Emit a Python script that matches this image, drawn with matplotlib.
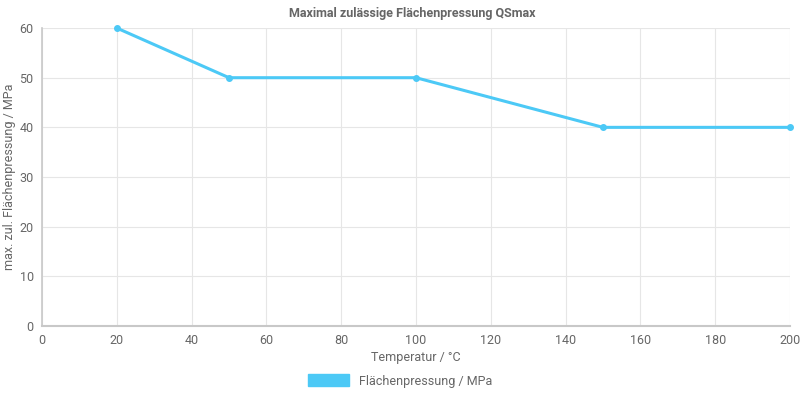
import matplotlib.pyplot as plt
from matplotlib.patches import Patch

plt.rcParams['font.family'] = ['Roboto', 'DejaVu Sans']

# daten
temperatur = [20, 50, 100, 150, 200]
pressung = [60, 50, 50, 40, 40]
x_ticks = [0, 20, 40, 60, 80, 100, 120, 140, 160, 180, 200]
y_ticks = [0, 10, 20, 30, 40, 50, 60]

farbe = '#4cc9f6'
text_farbe = '#666666'

fig = plt.figure(figsize=(8, 3.95), dpi=100)
ax = fig.add_axes([0.0525, 0.1747, 0.935, 0.7543])

ax.plot(temperatur, pressung, color=farbe, linewidth=2.2, marker='o', markersize=4,
        clip_on=False, zorder=3)

ax.set_xlim(0, 200)
ax.set_ylim(0, 60)
ax.set_xticks(x_ticks)
ax.set_yticks(y_ticks)
ax.grid(color='#e6e6e6', linewidth=0.8)
ax.set_axisbelow(True)

for s in ['top', 'right']:
    ax.spines[s].set_visible(False)
ax.spines['left'].set_color('#c8c8c8')
ax.spines['bottom'].set_color('#c8c8c8')
ax.spines['left'].set_linewidth(1.2)
ax.spines['bottom'].set_linewidth(1.5)
ax.tick_params(labelcolor=text_farbe, labelsize=9, length=0, pad=6)

# achsentitel als figurtext, damit nichts abgeschnitten wird
fig.text(0.52, 1 - 357 / 395, 'Temperatur / °C', ha='center', va='center',
         color=text_farbe, fontsize=9)
fig.text(0.012, 1 - 177 / 395, 'max. zul. Flächenpressung / MPa', ha='center', va='center',
         rotation=90, color=text_farbe, fontsize=9)
fig.text(0.515, 0.967, 'Maximal zulässige Flächenpressung QSmax', ha='center', va='center',
         color=text_farbe, fontsize=9, fontweight='bold')

fig.legend(handles=[Patch(facecolor=farbe, edgecolor=farbe)], labels=['Flächenpressung / MPa'],
           loc='center', bbox_to_anchor=(0.5, 1 - 381 / 395), frameon=False, fontsize=9,
           labelcolor=text_farbe, handlelength=3.3, handleheight=1.1)

fig.savefig('out.png', dpi=100)
